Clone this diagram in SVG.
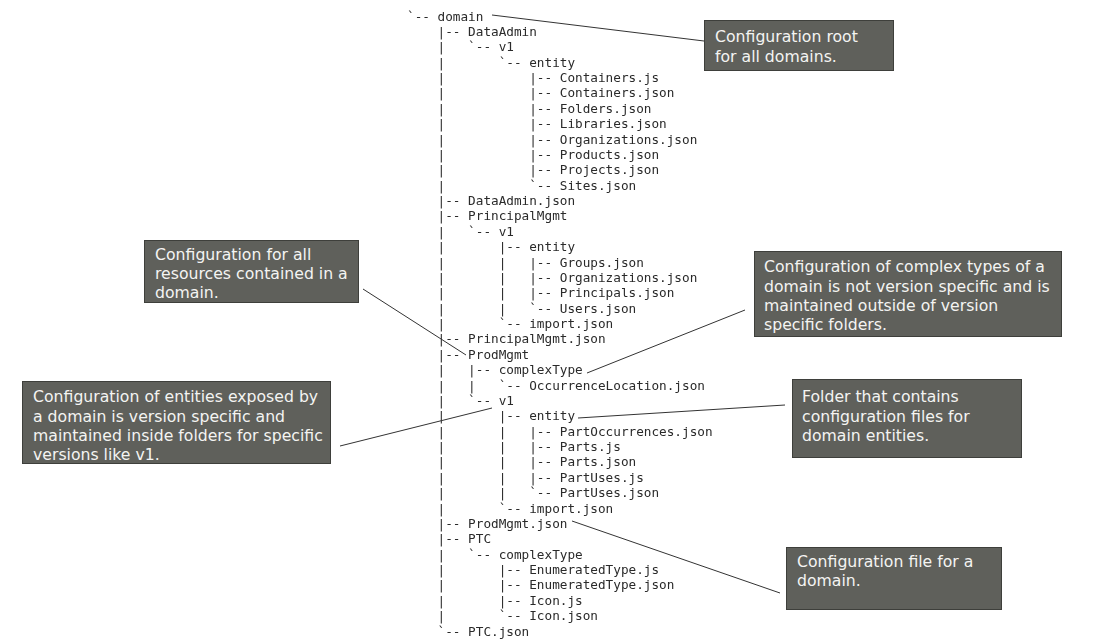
<svg xmlns="http://www.w3.org/2000/svg" width="1105" height="644" viewBox="0 0 1105 644">
<style>
.tree { font-family: "DejaVu Sans Mono", "Liberation Mono", monospace; font-size: 12.7px; fill: #2a2a2a; white-space: pre; }
.box { fill: #5f605b; stroke: #3e3f3b; stroke-width: 1; }
.lbl { font-family: "DejaVu Sans", "Liberation Sans", sans-serif; font-size: 15.7px; fill: #f4f4f2; }
.conn { stroke: #333333; stroke-width: 1; fill: none; }
</style>
<defs>
<filter id="gray" filterUnits="userSpaceOnUse" x="0" y="0" width="1105" height="644"><feOffset dx="0" dy="0"/></filter>
</defs>
<rect width="1105" height="644" fill="#ffffff"/>
<g id="tree" filter="url(#gray)">
<text class="tree" xml:space="preserve"><tspan x="407" y="20.5">`-- domain</tspan><tspan x="407" y="35.875">    |-- DataAdmin</tspan><tspan x="407" y="51.25">    |   `-- v1</tspan><tspan x="407" y="66.625">    |       `-- entity</tspan><tspan x="407" y="82">    |           |-- Containers.js</tspan><tspan x="407" y="97.375">    |           |-- Containers.json</tspan><tspan x="407" y="112.75">    |           |-- Folders.json</tspan><tspan x="407" y="128.125">    |           |-- Libraries.json</tspan><tspan x="407" y="143.5">    |           |-- Organizations.json</tspan><tspan x="407" y="158.875">    |           |-- Products.json</tspan><tspan x="407" y="174.25">    |           |-- Projects.json</tspan><tspan x="407" y="189.625">    |           `-- Sites.json</tspan><tspan x="407" y="205">    |-- DataAdmin.json</tspan><tspan x="407" y="220.375">    |-- PrincipalMgmt</tspan><tspan x="407" y="235.75">    |   `-- v1</tspan><tspan x="407" y="251.125">    |       |-- entity</tspan><tspan x="407" y="266.5">    |       |   |-- Groups.json</tspan><tspan x="407" y="281.875">    |       |   |-- Organizations.json</tspan><tspan x="407" y="297.25">    |       |   |-- Principals.json</tspan><tspan x="407" y="312.625">    |       |   `-- Users.json</tspan><tspan x="407" y="328">    |       `-- import.json</tspan><tspan x="407" y="343.375">    |-- PrincipalMgmt.json</tspan><tspan x="407" y="358.75">    |-- ProdMgmt</tspan><tspan x="407" y="374.125">    |   |-- complexType</tspan><tspan x="407" y="389.5">    |   |   `-- OccurrenceLocation.json</tspan><tspan x="407" y="404.875">    |   `-- v1</tspan><tspan x="407" y="420.25">    |       |-- entity</tspan><tspan x="407" y="435.625">    |       |   |-- PartOccurrences.json</tspan><tspan x="407" y="451">    |       |   |-- Parts.js</tspan><tspan x="407" y="466.375">    |       |   |-- Parts.json</tspan><tspan x="407" y="481.75">    |       |   |-- PartUses.js</tspan><tspan x="407" y="497.125">    |       |   `-- PartUses.json</tspan><tspan x="407" y="512.5">    |       `-- import.json</tspan><tspan x="407" y="527.875">    |-- ProdMgmt.json</tspan><tspan x="407" y="543.25">    |-- PTC</tspan><tspan x="407" y="558.625">    |   `-- complexType</tspan><tspan x="407" y="574">    |       |-- EnumeratedType.js</tspan><tspan x="407" y="589.375">    |       |-- EnumeratedType.json</tspan><tspan x="407" y="604.75">    |       |-- Icon.js</tspan><tspan x="407" y="620.125">    |       `-- Icon.json</tspan><tspan x="407" y="635.5">    `-- PTC.json</tspan></text>
</g>
<g id="connectors">
<line class="conn" x1="492" y1="15" x2="704" y2="41"/>
<line class="conn" x1="363" y1="289" x2="466" y2="355"/>
<line class="conn" x1="587" y1="373" x2="745" y2="310"/>
<line class="conn" x1="340" y1="446" x2="492" y2="408"/>
<line class="conn" x1="578" y1="418" x2="785" y2="405"/>
<line class="conn" x1="572" y1="521" x2="780" y2="593"/>
</g>
<g id="note-root">
<rect class="box" x="704.5" y="20.5" width="189" height="50"/>
<text class="lbl"><tspan x="715" y="42">Configuration root</tspan><tspan x="715" y="62">for all domains.</tspan></text>
</g>
<g id="note-resources">
<rect class="box" x="144.5" y="240.5" width="214" height="62"/>
<text class="lbl"><tspan x="155" y="259.5">Configuration for all</tspan><tspan x="155" y="279">resources contained in a</tspan><tspan x="155" y="298">domain.</tspan></text>
</g>
<g id="note-complex">
<rect class="box" x="754.5" y="251.5" width="307" height="85"/>
<text class="lbl"><tspan x="764" y="272">Configuration of complex types of a</tspan><tspan x="764" y="291.5">domain is not version specific and is</tspan><tspan x="764" y="311">maintained outside of version</tspan><tspan x="764" y="330">specific folders.</tspan></text>
</g>
<g id="note-entities">
<rect class="box" x="22.5" y="381.5" width="308" height="82"/>
<text class="lbl"><tspan x="33" y="402">Configuration of entities exposed by</tspan><tspan x="33" y="421.5">a domain is version specific and</tspan><tspan x="33" y="441">maintained inside folders for specific</tspan><tspan x="33" y="460">versions like v1.</tspan></text>
</g>
<g id="note-folder">
<rect class="box" x="792.5" y="379.5" width="229" height="78"/>
<text class="lbl"><tspan x="802" y="402">Folder that contains</tspan><tspan x="802" y="421.5">configuration files for</tspan><tspan x="802" y="441">domain entities.</tspan></text>
</g>
<g id="note-file">
<rect class="box" x="786.5" y="547.5" width="215" height="62"/>
<text class="lbl"><tspan x="797" y="567">Configuration file for a</tspan><tspan x="797" y="586">domain.</tspan></text>
</g>
</svg>
